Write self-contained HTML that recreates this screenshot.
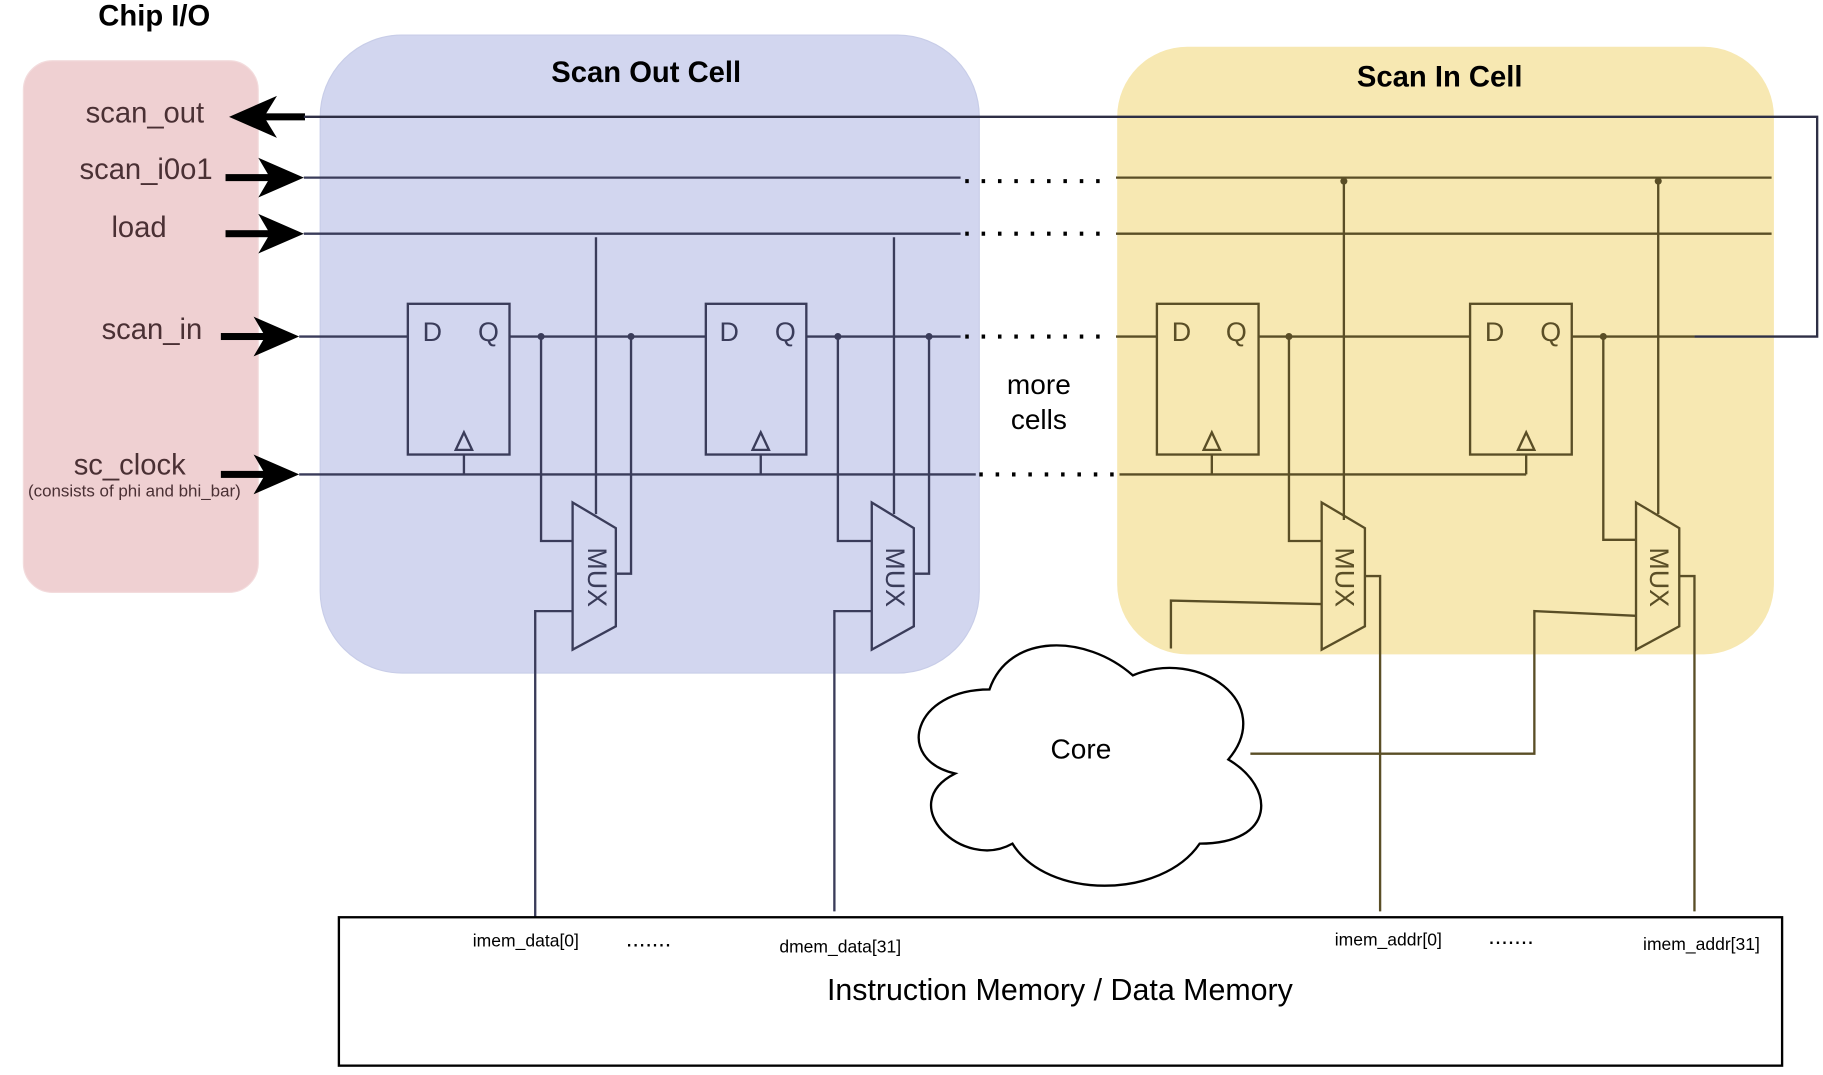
<!DOCTYPE html>
<html><head><meta charset="utf-8"><style>html,body{margin:0;padding:0;background:#fff}svg{display:block}</style></head>
<body>
<svg width="1823" height="1075" viewBox="0 0 1560 920" preserveAspectRatio="none" xmlns="http://www.w3.org/2000/svg" font-family="Liberation Sans, Arial, sans-serif">
<rect x="20" y="52" width="201" height="455" rx="25" fill="#efd0d2" stroke="#f3dcdd"/>
<rect x="274" y="30" width="564" height="546" rx="70" fill="#d2d6ef" stroke="#c8cde8"/>
<rect x="956" y="40" width="562" height="520" rx="60" fill="#f7e8b2"/>
<text x="132" y="22" font-size="25" font-weight="bold" text-anchor="middle">Chip I/O</text>
<text x="553" y="70" font-size="25" font-weight="bold" text-anchor="middle">Scan Out Cell</text>
<text x="1232" y="74" font-size="25" font-weight="bold" text-anchor="middle">Scan In Cell</text>
<g fill="#4a3034" font-size="25" text-anchor="middle">
<text x="124" y="105">scan_out</text>
<text x="125" y="153">scan_i0o1</text>
<text x="119" y="203">load</text>
<text x="130" y="290">scan_in</text>
<text x="111" y="406">sc_clock</text>
<text x="115" y="425" font-size="14.5">(consists of phi and bhi_bar)</text>
</g>
<g fill="#000">
<rect x="225" y="97" width="36" height="6"/><polygon points="196,100 237,82 226,100 237,118"/>
<rect x="193" y="149" width="42" height="6"/><polygon points="260,152 221,135 231,152 221,169"/>
<rect x="193" y="197" width="42" height="6"/><polygon points="260,200 221,183 231,200 221,217"/>
<rect x="189" y="285" width="42" height="6"/><polygon points="256,288 217,271 227,288 217,305"/>
<rect x="189" y="403" width="42" height="6"/><polygon points="256,406 217,389 227,406 217,423"/>
</g>
<g fill="none" stroke-width="2">
<path d="M260 100 H1555 V288 H1450" stroke="#2e2f45"/>
<g stroke="#3a3c5a">
<path d="M260 152 H822 M260 200 H822 M256 288 H349 M436 288 H604 M690 288 H822 M256 406 H835"/>
<path d="M397 389 V406 M651 389 V406"/>
<path d="M510 203 V440 M765 203 V440"/>
<path d="M463 288 V463 H490 M540 288 V491 H527 M490 523 H458 V785"/>
<path d="M717 288 V463 H746 M795 288 V491 H782 M746 523 H714 V780"/>
<rect x="349" y="260" width="87" height="129"/><rect x="604" y="260" width="86" height="129"/>
<polygon points="397,370 390,385 404,385"/><polygon points="651,370 644,385 658,385"/>
<polygon points="490,430 527,452 527,536 490,556"/><polygon points="746,430 782,452 782,536 746,556"/>
</g>
<g stroke="#5a4e26">
<path d="M955 152 H1516 M955 200 H1516 M955 288 H990 M1077 288 H1258 M1345 288 H1450 M958 406 H1306"/>
<path d="M1037 389 V406 M1306 389 V406"/>
<path d="M1150 155 V445 M1419 155 V440"/>
<path d="M1103 288 V463 H1131 M1168 493 H1181 V780 M1131 517 L1002 514 V555"/>
<path d="M1372 288 V462 H1400 M1437 493 H1450 V780 M1400 527 L1313 523 V645 H1070"/>
<rect x="990" y="260" width="87" height="129"/><rect x="1258" y="260" width="87" height="129"/>
<polygon points="1037,370 1030,385 1044,385"/><polygon points="1306,370 1299,385 1313,385"/>
<polygon points="1131,430 1168,452 1168,536 1131,556"/><polygon points="1400,430 1437,452 1437,536 1400,556"/>
</g>
<g stroke="#000" stroke-width="3.5" stroke-dasharray="3,11">
<path d="M826 155 H952 M826 200 H952 M826 288 H952 M838 406 H956"/>
</g>
</g>
<g fill="#3a3c5a"><circle cx="463" cy="288" r="3"/><circle cx="540" cy="288" r="3"/><circle cx="717" cy="288" r="3"/><circle cx="795" cy="288" r="3"/></g>
<g fill="#5a4e26"><circle cx="1103" cy="288" r="3"/><circle cx="1150" cy="155" r="3"/><circle cx="1372" cy="288" r="3"/><circle cx="1419" cy="155" r="3"/></g>
<g font-size="23" fill="#3a3c5a" text-anchor="middle">
<text x="370" y="292">D</text><text x="418" y="292">Q</text><text x="624" y="292">D</text><text x="672" y="292">Q</text>
<text transform="translate(503,494) rotate(90)">MUX</text><text transform="translate(758,494) rotate(90)">MUX</text>
</g>
<g font-size="23" fill="#5a4e26" text-anchor="middle">
<text x="1011" y="292">D</text><text x="1058" y="292">Q</text><text x="1279" y="292">D</text><text x="1327" y="292">Q</text>
<text transform="translate(1143,494) rotate(90)">MUX</text><text transform="translate(1412,494) rotate(90)">MUX</text>
</g>
<text x="889" y="337" font-size="24" text-anchor="middle">more</text>
<text x="889" y="367" font-size="24" text-anchor="middle">cells</text>
<path d="M846.75 590 C781.35 590 765 650 817.3 662 C765 688.4 823.9 746 866.4 722 C895.8 770 993.9 770 1026.6 722 C1092 722 1092 674 1051.1 650 C1092 602 1026.6 554 969.4 578 C928.5 542 863.1 542 846.75 590 Z" fill="#fff" stroke="#000" stroke-width="2"/>
<text x="925" y="649" font-size="24" text-anchor="middle">Core</text>
<rect x="290" y="785" width="1235" height="127" fill="none" stroke="#000" stroke-width="2"/>
<g font-size="15" text-anchor="middle">
<text x="450" y="810">imem_data[0]</text>
<text x="555" y="810" font-size="20">.......</text>
<text x="719" y="815">dmem_data[31]</text>
<text x="1188" y="809">imem_addr[0]</text>
<text x="1293" y="808" font-size="20">.......</text>
<text x="1456" y="813">imem_addr[31]</text>
</g>
<text x="907" y="856" font-size="26" text-anchor="middle">Instruction Memory / Data Memory</text>
</svg>
</body></html>
